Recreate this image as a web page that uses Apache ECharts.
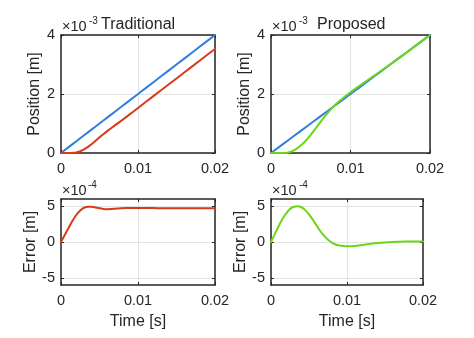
<!DOCTYPE html>
<html>
<head>
<meta charset="utf-8">
<script src="https://cdn.jsdelivr.net/npm/echarts@6/dist/echarts.min.js"></script>
<style>
  html, body { margin: 0; padding: 0; background: #fff; }
  #chart { width: 474px; height: 338px; }
</style>
</head>
<body>
<div id="chart"></div>
<script>
// Sample times [s]
const time = [0, 0.0005, 0.001, 0.0015, 0.002, 0.0025, 0.003, 0.0035, 0.004, 0.0045,
  0.005, 0.0055, 0.006, 0.0065, 0.007, 0.0075, 0.008, 0.0085, 0.009, 0.0095,
  0.01, 0.0105, 0.011, 0.012, 0.013, 0.014, 0.015, 0.016, 0.017, 0.018, 0.019, 0.02];

// Reference position [x1e-3 m]
const referencePos = [0, 0.1, 0.2, 0.3, 0.4, 0.5, 0.6, 0.7, 0.8, 0.9,
  1.0, 1.1, 1.2, 1.3, 1.4, 1.5, 1.6, 1.7, 1.8, 1.9,
  2.0, 2.1, 2.2, 2.4, 2.6, 2.8, 3.0, 3.2, 3.4, 3.6, 3.8, 4.0];

// Traditional controller: position [x1e-3 m] and tracking error [x1e-4 m]
const traditionalPos = [0, 0, 0, 0.005, 0.02, 0.06, 0.122, 0.207, 0.307, 0.418,
  0.53, 0.638, 0.742, 0.84, 0.935, 1.031, 1.128, 1.226, 1.325, 1.425,
  1.525, 1.625, 1.726, 1.927, 2.128, 2.328, 2.528, 2.728, 2.928, 3.128, 3.328, 3.528];
const traditionalErr = [0, 1.0, 2.0, 2.95, 3.8, 4.4, 4.78, 4.93, 4.93, 4.82,
  4.7, 4.62, 4.58, 4.6, 4.65, 4.69, 4.72, 4.74, 4.75, 4.75,
  4.75, 4.75, 4.74, 4.73, 4.72, 4.72, 4.72, 4.72, 4.72, 4.72, 4.72, 4.72];

// Proposed controller: position [x1e-3 m] and tracking error [x1e-4 m]
const proposedPos = [0, 0, 0, 0, 0.005, 0.04, 0.108, 0.2, 0.315, 0.455,
  0.615, 0.79, 0.97, 1.15, 1.315, 1.47, 1.61, 1.735, 1.848, 1.956,
  2.06, 2.16, 2.255, 2.442, 2.628, 2.815, 3.006, 3.2, 3.396, 3.593, 3.792, 3.992];
const proposedErr = [0, 1.1, 2.2, 3.2, 4.0, 4.6, 4.92, 5.0, 4.85, 4.45,
  3.85, 3.1, 2.3, 1.5, 0.85, 0.3, -0.1, -0.35, -0.48, -0.56,
  -0.6, -0.6, -0.55, -0.42, -0.28, -0.15, -0.06, 0.0, 0.04, 0.07, 0.08, 0.08];

// Axis ticks
const timeTicks = [0, 0.01, 0.02];
const posTicks = [0, 2, 4];
const errTicks = [-5, 0, 5];

const FONT = "'Liberation Sans', Arial, Helvetica, sans-serif";
const INK = '#262626';
const GRIDLINE = '#e3e3e3';
const BLUE = '#2f7fe0';
const RED = '#d83a1c';
const GREEN = '#6cd616';

const zip = (xs, ys) => xs.map((x, i) => [x, ys[i]]);
const fmtTime = v => (v === 0 ? '0' : String(+v.toFixed(3)));

// Panel boxes: [left, top, width, height]
const panels = [
  { box: [61, 35, 154, 118], y: [0, 4], yTicks: posTicks, yName: 'Position [m]', xName: '' },
  { box: [271, 35, 159, 118], y: [0, 4], yTicks: posTicks, yName: 'Position [m]', xName: '' },
  { box: [61, 199, 154, 86], y: [-6, 6], yTicks: errTicks, yName: 'Error [m]', xName: 'Time [s]' },
  { box: [271, 199, 152, 86], y: [-6, 6], yTicks: errTicks, yName: 'Error [m]', xName: 'Time [s]' }
];

const grid = [], xAxis = [], yAxis = [];
panels.forEach((p, i) => {
  grid.push({
    left: p.box[0], top: p.box[1], width: p.box[2], height: p.box[3],
    show: false
  });
  const edge = { show: true, onZero: false, lineStyle: { color: INK, width: 1.5 } };
  const tick = { show: true, inside: true, length: 3, lineStyle: { color: INK, width: 1 } };
  // bottom time axis
  xAxis.push({
    gridIndex: i, type: 'value', min: 0, max: 0.02, position: 'bottom',
    axisLine: edge,
    axisTick: Object.assign({ customValues: timeTicks }, tick),
    axisLabel: { customValues: timeTicks, formatter: fmtTime, color: INK, fontSize: 14.5, fontFamily: FONT, margin: 8 },
    splitLine: { show: true, lineStyle: { color: GRIDLINE, width: 1 } },
    name: p.xName, nameLocation: 'middle', nameGap: 29,
    nameTextStyle: { color: INK, fontSize: 16, fontFamily: FONT }
  });
  // top edge (ticks only)
  xAxis.push({
    gridIndex: i, type: 'value', min: 0, max: 0.02, position: 'top',
    axisLine: edge,
    axisTick: Object.assign({ customValues: timeTicks }, tick),
    axisLabel: { show: false }, splitLine: { show: false }
  });
  // left value axis
  yAxis.push({
    gridIndex: i, type: 'value', min: p.y[0], max: p.y[1], position: 'left',
    axisLine: edge,
    axisTick: Object.assign({ customValues: p.yTicks }, tick),
    axisLabel: { customValues: p.yTicks, color: INK, fontSize: 14.5, fontFamily: FONT, margin: 6 },
    splitLine: { show: true, lineStyle: { color: GRIDLINE, width: 1 } },
    name: p.yName, nameLocation: 'middle', nameGap: i < 2 ? 18 : 21, nameRotate: 90,
    nameTextStyle: { color: INK, fontSize: 16, fontFamily: FONT }
  });
  // right edge (ticks only)
  yAxis.push({
    gridIndex: i, type: 'value', min: p.y[0], max: p.y[1], position: 'right',
    axisLine: edge,
    axisTick: Object.assign({ customValues: p.yTicks }, tick),
    axisLabel: { show: false }, splitLine: { show: false }
  });
});

function line(panel, data, color, z, smooth) {
  return {
    type: 'line', xAxisIndex: panel * 2, yAxisIndex: panel * 2,
    data: data, showSymbol: false, smooth: smooth,
    lineStyle: { color: color, width: 2, join: 'round', cap: 'round' }, itemStyle: { color: color },
    z: z, animation: false
  };
}

const series = [
  line(0, zip(time, referencePos), BLUE, 2, false),
  line(0, zip(time, traditionalPos), RED, 3, false),
  line(1, zip(time, referencePos), BLUE, 2, false),
  line(1, zip(time, proposedPos), GREEN, 3, false),
  line(2, zip(time, traditionalErr), RED, 3, 0.2),
  line(3, zip(time, proposedErr), GREEN, 3, 0.2)
];

// Exponent multipliers and panel titles
function label(text, left, top, size) {
  return { text: text, left: left, top: top, padding: 0, itemGap: 0,
    textStyle: { color: INK, fontSize: size, fontWeight: 'normal', fontFamily: FONT } };
}
const title = [
  label('\u00d710', 62, 19, 14.5), label('-3', 89, 16, 10), label('Traditional', 101, 17, 16),
  label('\u00d710', 272, 19, 14.5), label('-3', 299, 16, 10), label('Proposed', 317, 17, 16),
  label('\u00d710', 62, 183, 14.5), label('-4', 88, 180, 10),
  label('\u00d710', 272, 183, 14.5), label('-4', 299, 180, 10)
];

const chart = echarts.init(document.getElementById('chart'), null, { renderer: 'canvas' });
chart.setOption({
  animation: false,
  backgroundColor: '#fff',
  title: title,
  grid: grid,
  xAxis: xAxis,
  yAxis: yAxis,
  series: series
});
</script>
</body>
</html>
